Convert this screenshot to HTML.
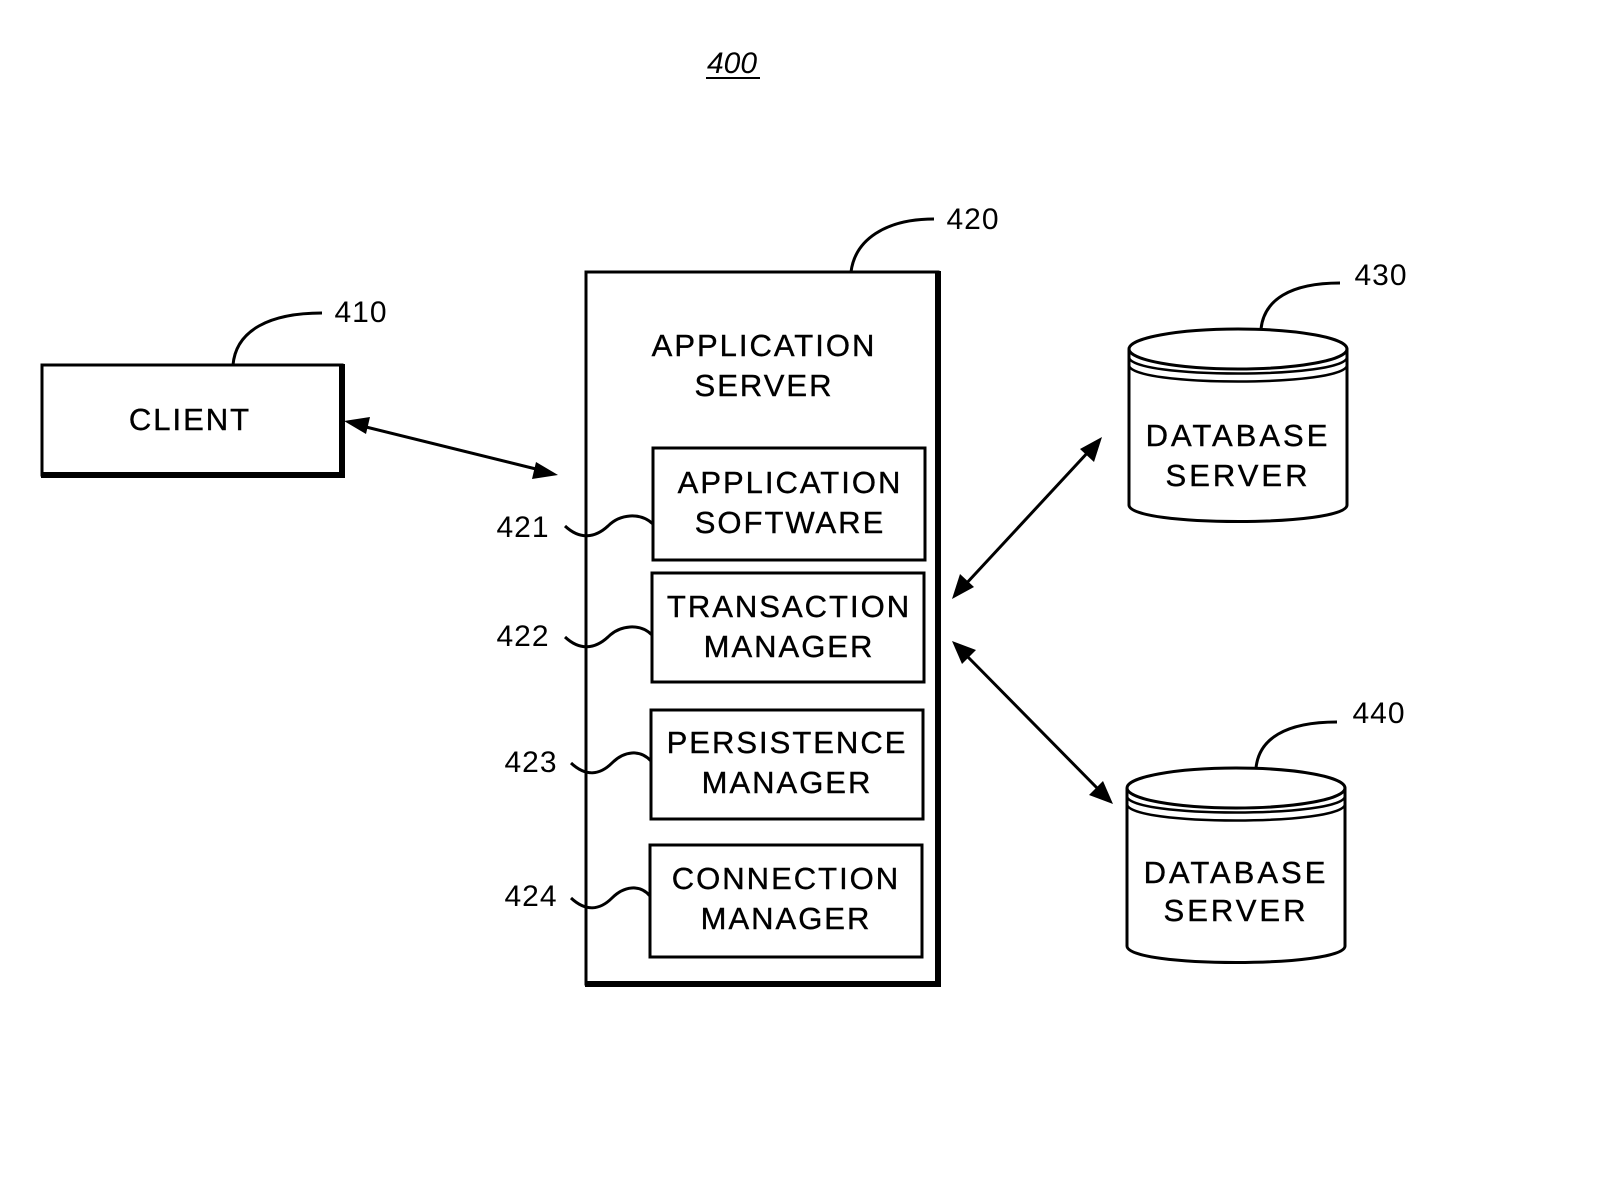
<!DOCTYPE html>
<html><head><meta charset="utf-8"><style>
html,body{margin:0;padding:0;background:#fff}
svg{display:block}
text{font-family:"Liberation Sans",sans-serif;fill:#000}
.t{font-size:31px;letter-spacing:2px;text-anchor:middle;stroke:#000;stroke-width:0.4}
.d{letter-spacing:3px}
.n{font-size:30px;letter-spacing:1px;text-anchor:middle}
</style></head><body>
<svg width="1600" height="1197" viewBox="0 0 1600 1197" xmlns="http://www.w3.org/2000/svg">
<g fill="none" stroke="#000">
<text x="732" y="73" font-size="30" font-style="italic" text-anchor="middle" stroke="none">400</text>
<line x1="706" y1="78" x2="760" y2="78" stroke-width="2"/>

<rect x="42" y="365" width="300" height="110" stroke-width="3"/>
<line x1="342" y1="364" x2="342" y2="477" stroke-width="6"/>
<line x1="41" y1="475" x2="345" y2="475" stroke-width="6"/>
<path d="M233 365 C236 330 270 313 322 313" stroke-width="3"/>

<rect x="586" y="272" width="352" height="712" stroke-width="3"/>
<line x1="938" y1="271" x2="938" y2="986" stroke-width="6"/>
<line x1="585" y1="984" x2="941" y2="984" stroke-width="6"/>
<path d="M851 272 C855 240 885 219 934 219" stroke-width="3"/>

<rect x="653" y="448" width="272" height="112" stroke-width="3"/>
<rect x="652" y="573" width="272" height="109" stroke-width="3"/>
<rect x="651" y="710" width="272" height="109" stroke-width="3"/>
<rect x="650" y="845" width="272" height="112" stroke-width="3"/>

<path d="M565 526 C580 540 595 538 608 526 C620 514 640 512 653 524" stroke-width="3"/>
<path d="M565 637 C580 651 595 649 608 637 C620 625 640 623 652 635" stroke-width="3"/>
<path d="M571 763 C586 777 600 775 612 763 C624 751 640 749 651 761" stroke-width="3"/>
<path d="M571 898 C586 912 600 910 612 898 C624 886 640 884 650 896" stroke-width="3"/>

<path d="M1129 349 L1129 505 C1129 527 1347 527 1347 505 L1347 349" stroke-width="3" fill="#fff"/>
<ellipse cx="1238" cy="349" rx="109" ry="20" stroke-width="3" fill="#fff"/>
<path d="M1129 357 C1129 379 1347 379 1347 357" stroke-width="2.5"/>
<path d="M1129 365 C1129 387 1347 387 1347 365" stroke-width="2.5"/>
<path d="M1261 329 C1264 300 1290 283 1340 283" stroke-width="3"/>

<path d="M1127 788 L1127 946 C1127 968 1345 968 1345 946 L1345 788" stroke-width="3" fill="#fff"/>
<ellipse cx="1236" cy="788" rx="109" ry="20" stroke-width="3" fill="#fff"/>
<path d="M1127 796 C1127 818 1345 818 1345 796" stroke-width="2.5"/>
<path d="M1127 804 C1127 826 1345 826 1345 804" stroke-width="2.5"/>
<path d="M1256 768 C1259 739 1285 722 1337 722" stroke-width="3"/>

<line x1="362" y1="426" x2="540" y2="470" stroke-width="3"/>
<polygon points="344,421 370,417 366,434" fill="#000" stroke="none"/>
<polygon points="558,475 532,479 536,462" fill="#000" stroke="none"/>

<line x1="964" y1="586" x2="1090" y2="450" stroke-width="3"/>
<polygon points="952,599 960,574 974,587" fill="#000" stroke="none"/>
<polygon points="1102,437 1094,462 1080,449" fill="#000" stroke="none"/>

<line x1="964" y1="653" x2="1101" y2="792" stroke-width="3"/>
<polygon points="952,641 976,650 962,664" fill="#000" stroke="none"/>
<polygon points="1113,804 1089,795 1103,781" fill="#000" stroke="none"/>
</g>

<text class="t" x="190" y="430">CLIENT</text>
<text class="t" x="764" y="356">APPLICATION</text>
<text class="t" x="764" y="396">SERVER</text>
<text class="t" x="790" y="493">APPLICATION</text>
<text class="t" x="790" y="533">SOFTWARE</text>
<text class="t" x="789" y="617">TRANSACTION</text>
<text class="t" x="789" y="657">MANAGER</text>
<text class="t" x="787" y="753">PERSISTENCE</text>
<text class="t" x="787" y="793">MANAGER</text>
<text class="t" x="786" y="889">CONNECTION</text>
<text class="t" x="786" y="929">MANAGER</text>
<text class="t d" x="1238" y="446">DATABASE</text>
<text class="t d" x="1238" y="486">SERVER</text>
<text class="t d" x="1236" y="883">DATABASE</text>
<text class="t d" x="1236" y="921">SERVER</text>

<text class="n" x="361" y="322">410</text>
<text class="n" x="973" y="229">420</text>
<text class="n" x="1381" y="285">430</text>
<text class="n" x="1379" y="723">440</text>
<text class="n" x="523" y="537">421</text>
<text class="n" x="523" y="646">422</text>
<text class="n" x="531" y="772">423</text>
<text class="n" x="531" y="906">424</text>
</svg>
</body></html>
